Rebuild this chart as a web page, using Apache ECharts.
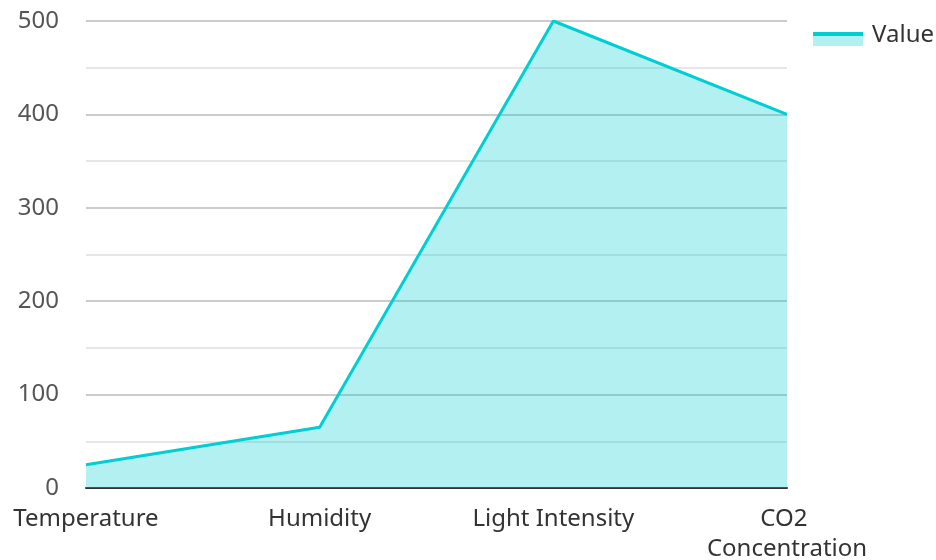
<!DOCTYPE html>
<html>
<head>
<meta charset="utf-8">
<script src="https://cdn.jsdelivr.net/npm/echarts@6/dist/echarts.min.js"></script>
<style>
	html, body { margin: 0; padding: 0; background: #fff; }
	#chart { width: 936px; height: 560px; }
</style>
</head>
<body>
<div id="chart"></div>
<script>
// 数据
var categories = ['Temperature', 'Humidity', 'Light Intensity', 'CO2 Concentration'];
var values = [25, 65, 500, 400];
var seriesName = 'Value';

var chart = echarts.init(document.getElementById('chart'));
var option = {
	backgroundColor: '#fff',
	animation: false,
	textStyle: { fontFamily: 'Noto Sans' },
	legend: {
		data: [{
			name: seriesName,
			icon: 'rect',
			itemStyle: {
				// 图例：上方线条 + 下方面积（顶部留空，让图标偏下）
				color: {
					type: 'linear', x: 0, y: 0, x2: 0, y2: 1,
					colorStops: [
						{ offset: 0, color: 'rgba(255,255,255,0)' },
						{ offset: 0.364, color: 'rgba(255,255,255,0)' },
						{ offset: 0.364, color: '#00CED1' },
						{ offset: 0.545, color: '#00CED1' },
						{ offset: 0.545, color: '#b2f0f1' },
						{ offset: 1, color: '#b2f0f1' }
					]
				}
			}
		}],
		right: 2,
		top: 23,
		padding: 0,
		itemWidth: 50,
		itemHeight: 22,
		textStyle: { fontSize: 24, color: '#333', fontFamily: 'Noto Sans', padding: [0, 0, 0, 4] }
	},
	grid: {
		left: 86,
		right: 149,
		top: 21,
		bottom: 72,
		outerBoundsMode: 'none'
	},
	xAxis: {
		type: 'category',
		data: categories,
		boundaryGap: false,
		axisLine: { lineStyle: { color: '#333', width: 2 } },
		axisTick: { show: false },
		axisLabel: {
			interval: 0,
			fontSize: 24,
			color: '#333',
			margin: 16,
			width: 190,
			overflow: 'break',
			lineHeight: 30
		}
	},
	yAxis: {
		type: 'value',
		min: 0,
		max: 500,
		interval: 100,
		axisLine: { show: false },
		axisTick: { show: false },
		axisLabel: { fontSize: 24, color: '#555', margin: 27 },
		splitLine: { lineStyle: { color: '#ccc', width: 2 } },
		minorTick: { show: false, splitNumber: 2 },
		minorSplitLine: { show: true, lineStyle: { color: '#e6e6e6', width: 2 } }
	},
	series: [
		{
			name: seriesName,
			type: 'line',
			data: values,
			symbol: 'none',
			lineStyle: { color: '#00CED1', width: 3 },
			itemStyle: { color: '#00CED1' },
			areaStyle: { color: '#00CED1', opacity: 0.3 }
		}
	]
};
chart.setOption(option);
</script>
</body>
</html>
